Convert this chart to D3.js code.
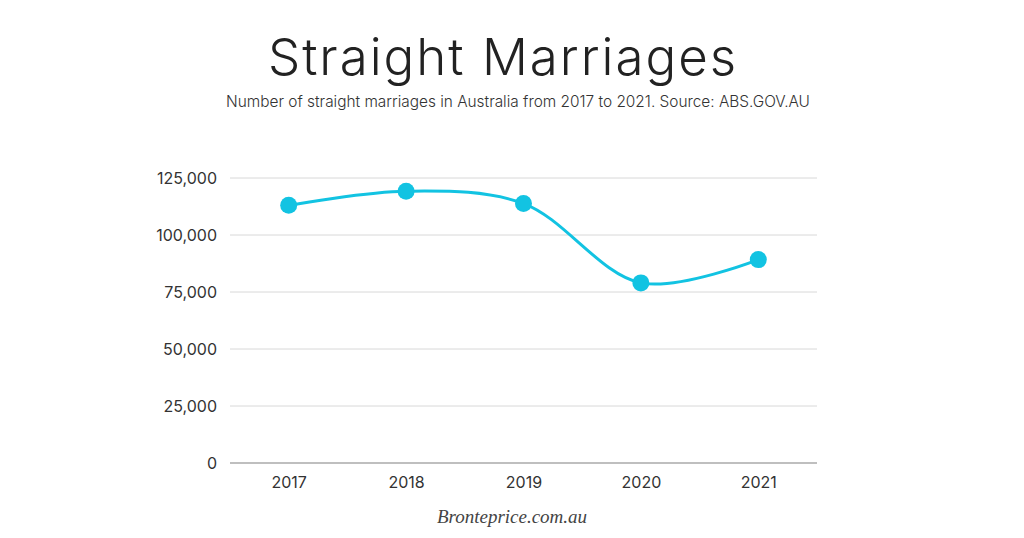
<!DOCTYPE html>
<meta charset="utf-8">
<script src="https://d3js.org/d3.v7.min.js"></script>
<style>
  body { margin: 0; background: #fff; }
  text { font-family: "Inter", "Lato", sans-serif; fill: #333; }
</style>
<body>
<div id="canvas"></div>
<script>

    var years = ["2017", "2018", "2019", "2020", "2021"];
    var marriages = [113000, 119200, 113800, 79000, 89200];
    var yTicks = [0, 25000, 50000, 75000, 100000, 125000];

    var width = 1024;
    var height = 538;

    var svg = d3.select("#canvas")
        .append("svg")
        .attr("width", width)
        .attr("height", height);

    var margin = {top: 178, right: 207, bottom: 75, left: 230};
    var w = width - margin.left - margin.right;
    var h = height - margin.top - margin.bottom;

    var g = svg.append("g")
        .attr("transform", "translate(" + margin.left + "," + margin.top + ")");

    // titulo e subtitulo
    svg.append("text")
        .attr("x", 503)
        .attr("y", 75)
        .attr("text-anchor", "middle")
        .style("font-size", "51px")
        .style("font-weight", 300)
        .style("letter-spacing", "2px")
        .style("fill", "#222")
        .text("Straight Marriages");

    svg.append("text")
        .attr("x", 518)
        .attr("y", 107)
        .attr("text-anchor", "middle")
        .style("font-size", "15.4px")
        .style("font-weight", 300)
        .text("Number of straight marriages in Australia from 2017 to 2021. Source: ABS.GOV.AU");

    // escalas
    var x = d3.scalePoint()
        .domain(years)
        .range([0, w])
        .padding(0.5);

    var y = d3.scaleLinear()
        .domain([0, 125000])
        .range([h, 0]);

    // grade
    g.append("g")
        .selectAll("line")
        .data(yTicks)
        .enter()
        .append("line")
        .attr("x1", 0)
        .attr("x2", w)
        .attr("y1", function(d) { return y(d); })
        .attr("y2", function(d) { return y(d); })
        .attr("stroke", function(d) { return d === 0 ? "#aaa" : "#d8d8d8"; })
        .attr("stroke-width", function(d) { return d === 0 ? 1.5 : 1; });

    var yAxis = d3.axisLeft(y)
        .tickValues(yTicks)
        .tickSize(0)
        .tickPadding(13)
        .tickFormat(d3.format(","));
    g.append("g")
        .call(yAxis)
        .call(function(s) { s.select(".domain").remove(); })
        .selectAll("text")
        .style("font-size", "16px");

    var xAxis = d3.axisBottom(x)
        .tickSize(0)
        .tickPadding(14);
    g.append("g")
        .attr("transform", "translate(0," + h + ")")
        .call(xAxis)
        .call(function(s) { s.select(".domain").remove(); })
        .selectAll("text")
        .style("font-size", "16px");

    // linha
    var line = d3.line()
        .x(function(d, i) { return x(years[i]); })
        .y(function(d) { return y(d); })
        .curve(d3.curveCatmullRom.alpha(0.5));

    g.append("path")
        .datum(marriages)
        .attr("d", line)
        .attr("fill", "none")
        .attr("stroke", "#12c3e2")
        .attr("stroke-width", 3);

    g.selectAll("circle")
        .data(marriages)
        .enter()
        .append("circle")
        .attr("cx", function(d, i) { return x(years[i]); })
        .attr("cy", function(d) { return y(d); })
        .attr("r", 8.5)
        .attr("fill", "#12c3e2");

    // rodape
    svg.append("text")
        .attr("x", 512)
        .attr("y", 523)
        .attr("text-anchor", "middle")
        .style("font-family", "'Liberation Serif', serif")
        .style("font-style", "italic")
        .style("font-size", "19px")
        .style("fill", "#444")
        .text("Bronteprice.com.au");

</script>
</body>
